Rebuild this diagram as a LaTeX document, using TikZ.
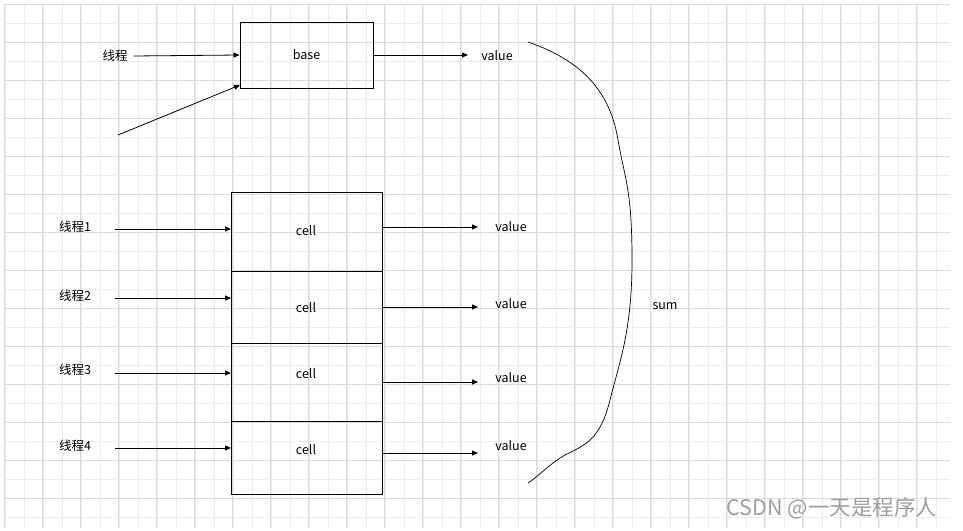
\documentclass[tikz,border=0pt]{standalone}
\usepackage{fontspec}
\setmainfont{Noto Sans CJK SC}
\usetikzlibrary{arrows.meta}
\begin{document}
\begin{tikzpicture}[x=1pt,y=-1pt,
  box/.style={draw,line width=0.8pt,minimum width=0pt},
  arr/.style={line width=0.8pt,-{Triangle[length=6pt,width=5pt]}},
  lbl/.style={font=\fontsize{12.5}{14}\selectfont,inner sep=0pt}]
\useasboundingbox (0,0) rectangle (963,530);
\fill[white] (0,0) rectangle (963,530);
\foreach \i in {0,...,49} \draw[gray!15,line width=0.6pt] ({5+19*\i},4) -- ({5+19*\i},528);
\foreach \i in {0,...,27} \draw[gray!15,line width=0.6pt] (5,{4+19*\i}) -- (950,{4+19*\i});
\foreach \i in {0,...,24} \draw[gray!28,line width=0.8pt] ({4+38*\i},4) -- ({4+38*\i},528);
\foreach \i in {0,...,13} \draw[gray!28,line width=0.8pt] (5,{4+38*\i}) -- (950,{4+38*\i});

\node[box,minimum width=133pt,minimum height=66pt,lbl,inner sep=0pt] (base) at (306.5,55) {base};
\node[lbl] (t0) at (115,56) {线程};
\coordinate (s0) at (118,135);
\draw[arr] (t0.east)+(6,0) -- (base.west |- 0,55);
\draw[arr] (s0) -- (240,85);
\node[lbl] (v0) at (497,56) {value};
\draw[arr] (base.east |- 0,55) -- (468,55);

\foreach \n/\ya/\yb/\ty/\ay/\ly/\oy/\vy in {1/192/271/227/229/231/227/227, 2/271/343/296/298/308/307/304, 3/343/421/370/373/374/382/378, 4/421/494/446/448/450/453/446}{
  \node[box,minimum width=151pt,minimum height={\yb-\ya},inner sep=0pt] (c\n) at (306.5,{(\ya+\yb)/2}) {};
  \node[lbl] (cl\n) at (306,\ly) {cell};
  \node[lbl] (t\n) at (75,\ty) {线程\n};
  \node[lbl] (v\n) at (511,\vy) {value};
  \coordinate (ci\n) at (231,\ay);
  \coordinate (co\n) at (382,\oy);
  \coordinate (ce\n) at (478,\oy);
  \draw[arr] (115,\ay) -- (ci\n);
  \draw[arr] (co\n) -- (ce\n);
}
\draw[line width=0.7pt] (528,42) .. controls (580,60) and (610,90) .. (618,140)
  .. controls (625,180) and (632,190) .. (632,260)
  .. controls (632,330) and (620,360) .. (610,400)
  .. controls (600,440) and (585,445) .. (565,455)
  .. controls (548,465) and (540,475) .. (528,483);
\node[lbl] (sum) at (665,306) {sum};
\node[font=\fontsize{21.5}{24}\selectfont,text=gray!75,inner sep=0pt] (wm) at (832,508) {CSDN @一天是程序人};
\end{tikzpicture}
\end{document}
